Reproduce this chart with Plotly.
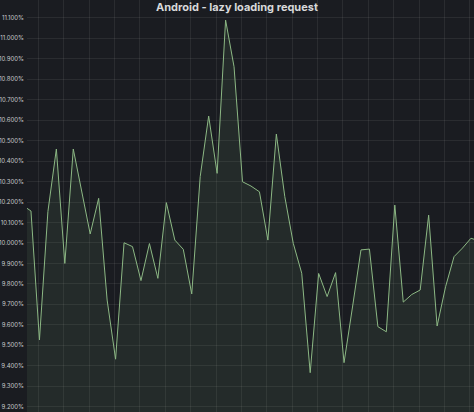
import plotly.graph_objects as go

# sample index (one point per scrape) and loading-request share in percent
sample = list(range(55))
rate = [10.184, 10.156, 9.526, 10.153, 10.459, 9.900, 10.459, 10.259, 10.044, 10.218,
        9.721, 9.432, 10.001, 9.982, 9.816, 9.997, 9.827, 10.197, 10.014, 9.969,
        9.751, 10.324, 10.620, 10.340, 11.089, 10.861, 10.299, 10.278, 10.250, 10.014,
        10.532, 10.226, 9.998, 9.852, 9.366, 9.851, 9.738, 9.855, 9.415, 9.687,
        9.966, 9.970, 9.591, 9.566, 10.185, 9.711, 9.748, 9.770, 10.136, 9.594,
        9.786, 9.933, 9.975, 10.023, 10.009]

y_ticks = [9.2 + 0.1 * k for k in range(20)]
y_labels = ["%.3f%%" % v for v in y_ticks]

title = "Android - lazy loading request"

fig = go.Figure()
fig.add_trace(go.Scatter(
    x=sample, y=rate, mode="lines",
    line=dict(color="#8cb884", width=1),
    fill="tozeroy", fillcolor="rgba(115,160,110,0.12)",
    hoverinfo="skip", showlegend=False))

fig.update_layout(
    width=474, height=412,
    margin=dict(l=27, r=0, t=0, b=0),
    paper_bgcolor="#1a1c21", plot_bgcolor="#1a1c21",
    title=dict(text="<b>" + title + "</b>", xref="container", x=0.5,
               y=0.983, yanchor="middle", xanchor="center",
               font=dict(family="Inter, Roboto, sans-serif", size=11, color="#d8d9da")),
    font=dict(family="Inter, Roboto, sans-serif", color="#c7c8ca"),
)

fig.update_xaxes(range=[0.53, 53.36], showticklabels=False, tick0=1.87, dtick=3,
                 showgrid=True, gridcolor="rgba(255,255,255,0.07)", gridwidth=1,
                 zeroline=False, showline=False)
fig.update_yaxes(range=[9.174, 11.187], tickvals=y_ticks, ticktext=y_labels,
                 tickfont=dict(size=6, color="#c7c8ca"),
                 showgrid=True, gridcolor="rgba(255,255,255,0.07)", gridwidth=1,
                 zeroline=False, showline=False, ticklabelstandoff=2)

# page body has a default margin; drop it so the panel fills the window
fig.write_html("out.html", config={"displayModeBar": False},
               post_script="document.body.style.margin='0';")
